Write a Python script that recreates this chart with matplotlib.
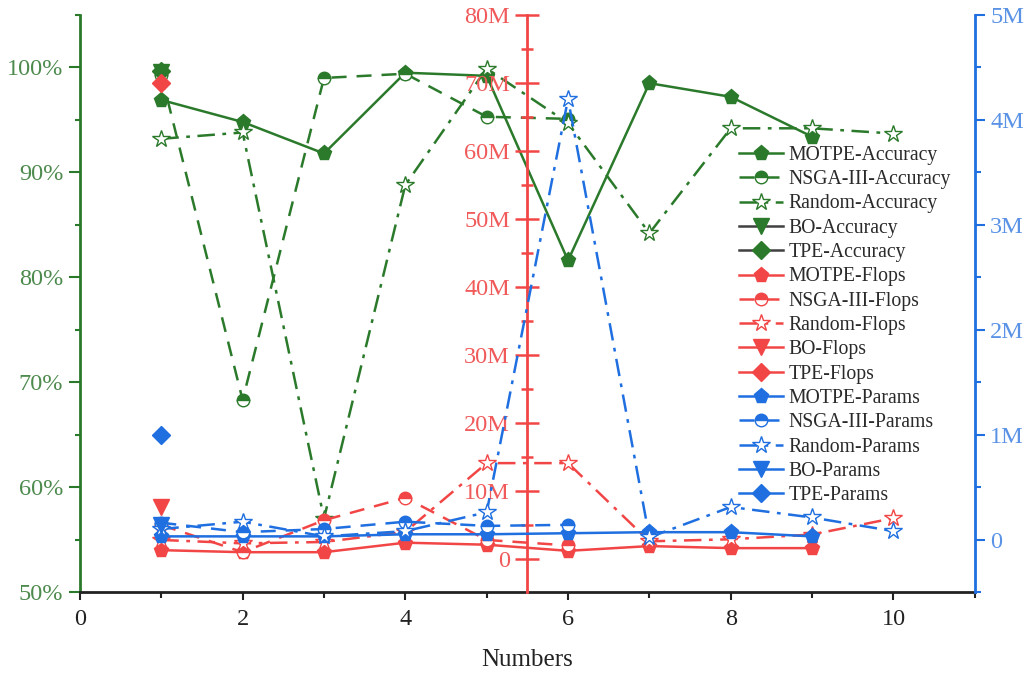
import matplotlib.pyplot as plt
from matplotlib.ticker import FuncFormatter, MultipleLocator

plt.rcParams["font.family"] = ["Liberation Serif", "DejaVu Serif"]

# Data (accuracy in %, flops and params in millions)
x_motpe = [1, 2, 3, 4, 5, 6, 7, 8, 9]
x_nsga = [1, 2, 3, 4, 5, 6]
x_random = [1, 2, 3, 4, 5, 6, 7, 8, 9, 10]
x_single = [1]

motpe_acc = [96.9, 94.8, 91.8, 99.5, 99.2, 81.6, 98.5, 97.2, 93.4]
nsga_acc = [99.3, 68.3, 99.0, 99.4, 95.3, 95.1]
random_acc = [93.2, 93.8, 57.0, 88.8, 99.9, 94.7, 84.2, 94.2, 94.2, 93.7]
bo_acc = [99.6]
tpe_acc = [99.7]

motpe_flops = [1.3, 1.0, 1.0, 2.4, 2.1, 1.2, 1.9, 1.6, 1.6]
nsga_flops = [5.0, 1.0, 5.7, 9.0, 2.8, 2.0]
random_flops = [2.8, 2.3, 2.5, 4.0, 14.1, 14.1, 2.6, 2.9, 3.6, 6.0]
bo_flops = [7.6]
tpe_flops = [70.0]

motpe_params = [0.03, 0.03, 0.03, 0.05, 0.05, 0.06, 0.07, 0.07, 0.03]
nsga_params = [0.16, 0.07, 0.10, 0.17, 0.13, 0.14]
random_params = [0.10, 0.17, 0.03, 0.08, 0.26, 4.2, 0.02, 0.31, 0.21, 0.08]
bo_params = [0.14]
tpe_params = [1.0]

GREEN = "#2b7a2b"
RED = "#f24646"
BLUE = "#1f6fe0"
DARK = "#404040"

dash = (0, (6, 4))
dashdot = (0, (7, 3, 1.5, 3))

fig = plt.figure(figsize=(10.25, 6.82), dpi=100)
ax = fig.add_axes([0.078, 0.132, 0.873, 0.846])
ax2 = ax.twinx()
ax3 = ax.twinx()


def draw(a, color, motpe, nsga, rand, bo, tpe, name, line_single=None):
    lc = line_single or color
    h = []
    h += a.plot(x_motpe, motpe, color=color, lw=1.8, marker="p", ms=11,
                mfc=color, mec=color, label=f"MOTPE-{name}")
    h += a.plot(x_nsga, nsga, color=color, lw=1.8, ls=dash, marker="o", ms=9,
                fillstyle="top", mfc=color, mfcalt="white", mec=color,
                label=f"NSGA-III-{name}")
    h += a.plot(x_random, rand, color=color, lw=1.8, ls=dashdot, marker="*",
                ms=13, mfc="white", mec=color, mew=1.0,
                label=f"Random-{name}")
    h += a.plot(x_single, bo, color=lc, lw=1.8, marker="v", ms=11,
                mfc=color, mec=color, label=f"BO-{name}")
    h += a.plot(x_single, tpe, color=lc, lw=1.8, marker="D", ms=9,
                mfc=color, mec=color, label=f"TPE-{name}")
    return h


handles = []
handles += draw(ax, GREEN, motpe_acc, nsga_acc, random_acc, bo_acc, tpe_acc,
                "Accuracy", line_single=DARK)
handles += draw(ax2, RED, motpe_flops, nsga_flops, random_flops, bo_flops,
                tpe_flops, "Flops")
handles += draw(ax3, BLUE, motpe_params, nsga_params, random_params,
                bo_params, tpe_params, "Params")

# x axis
ax.set_xlim(0, 11)
ax.xaxis.set_major_locator(MultipleLocator(2))
ax.xaxis.set_minor_locator(MultipleLocator(1))
ax.set_xlabel("Numbers", fontsize=18, color="#222222", labelpad=14)
ax.tick_params(axis="x", which="major", length=6, width=1.5, labelsize=17.5,
               colors="#222222", pad=6)
ax.tick_params(axis="x", which="minor", length=4, width=1.5, colors="#222222")

# accuracy axis (left)
ax.set_ylim(50, 105)
ax.yaxis.set_major_locator(MultipleLocator(10))
ax.yaxis.set_minor_locator(MultipleLocator(5))
ax.yaxis.set_major_formatter(FuncFormatter(lambda v, p: f"{v:.0f}%" if v <= 100 else ""))
ax.tick_params(axis="y", which="major", length=8, width=1.5, labelsize=17.5,
               colors=GREEN, labelcolor="#4d8a4d", pad=4)
ax.tick_params(axis="y", which="minor", length=3.5, width=1.5, colors=GREEN)
ax.spines["left"].set_color(GREEN)
ax.spines["left"].set_linewidth(2)
ax.spines["bottom"].set_color("#222222")
ax.spines["bottom"].set_linewidth(2)
ax.spines["top"].set_visible(False)
ax.spines["right"].set_visible(False)

# flops axis (middle)
ax2.set_ylim(-4.85, 80)
ax2.yaxis.set_ticks_position("left")
ax2.yaxis.set_label_position("left")
ax2.spines["left"].set_position(("data", 5.5))
ax2.spines["left"].set_color(RED)
ax2.spines["left"].set_linewidth(2)
for s in ["top", "right", "bottom"]:
    ax2.spines[s].set_visible(False)
ax2.yaxis.set_major_locator(MultipleLocator(10))
ax2.yaxis.set_minor_locator(MultipleLocator(5))
ax2.yaxis.set_major_formatter(FuncFormatter(lambda v, p: "0" if abs(v) < 1e-9 else f"{v:.0f}M"))
ax2.tick_params(axis="y", which="major", direction="inout", length=17,
                width=1.8, labelsize=17.5, colors=RED, labelcolor="#f05a5a",
                pad=4)
ax2.tick_params(axis="y", which="minor", direction="inout", length=8,
                width=1.8, colors=RED)

# params axis (right)
ax3.set_ylim(-0.5, 5)
for s in ["top", "left", "bottom"]:
    ax3.spines[s].set_visible(False)
ax3.spines["right"].set_color(BLUE)
ax3.spines["right"].set_linewidth(2)
ax3.yaxis.set_major_locator(MultipleLocator(1))
ax3.yaxis.set_minor_locator(MultipleLocator(0.5))
ax3.yaxis.set_major_formatter(FuncFormatter(lambda v, p: "0" if abs(v) < 1e-9 else f"{v:.0f}M"))
ax3.tick_params(axis="y", which="major", length=7, width=1.5, labelsize=17.5,
                colors=BLUE, labelcolor="#5a92e6", pad=4)
ax3.tick_params(axis="y", which="minor", length=4.5, width=1.5, colors=BLUE)

leg = ax3.legend(handles=handles, loc="upper left",
                 bbox_to_anchor=(0.728, 0.787), frameon=False, fontsize=14.2,
                 labelspacing=0.27, handlelength=2.2, handletextpad=0.3,
                 borderaxespad=0)
for t in leg.get_texts():
    t.set_color("#2a2a2a")

fig.savefig("out.png", dpi=100)
